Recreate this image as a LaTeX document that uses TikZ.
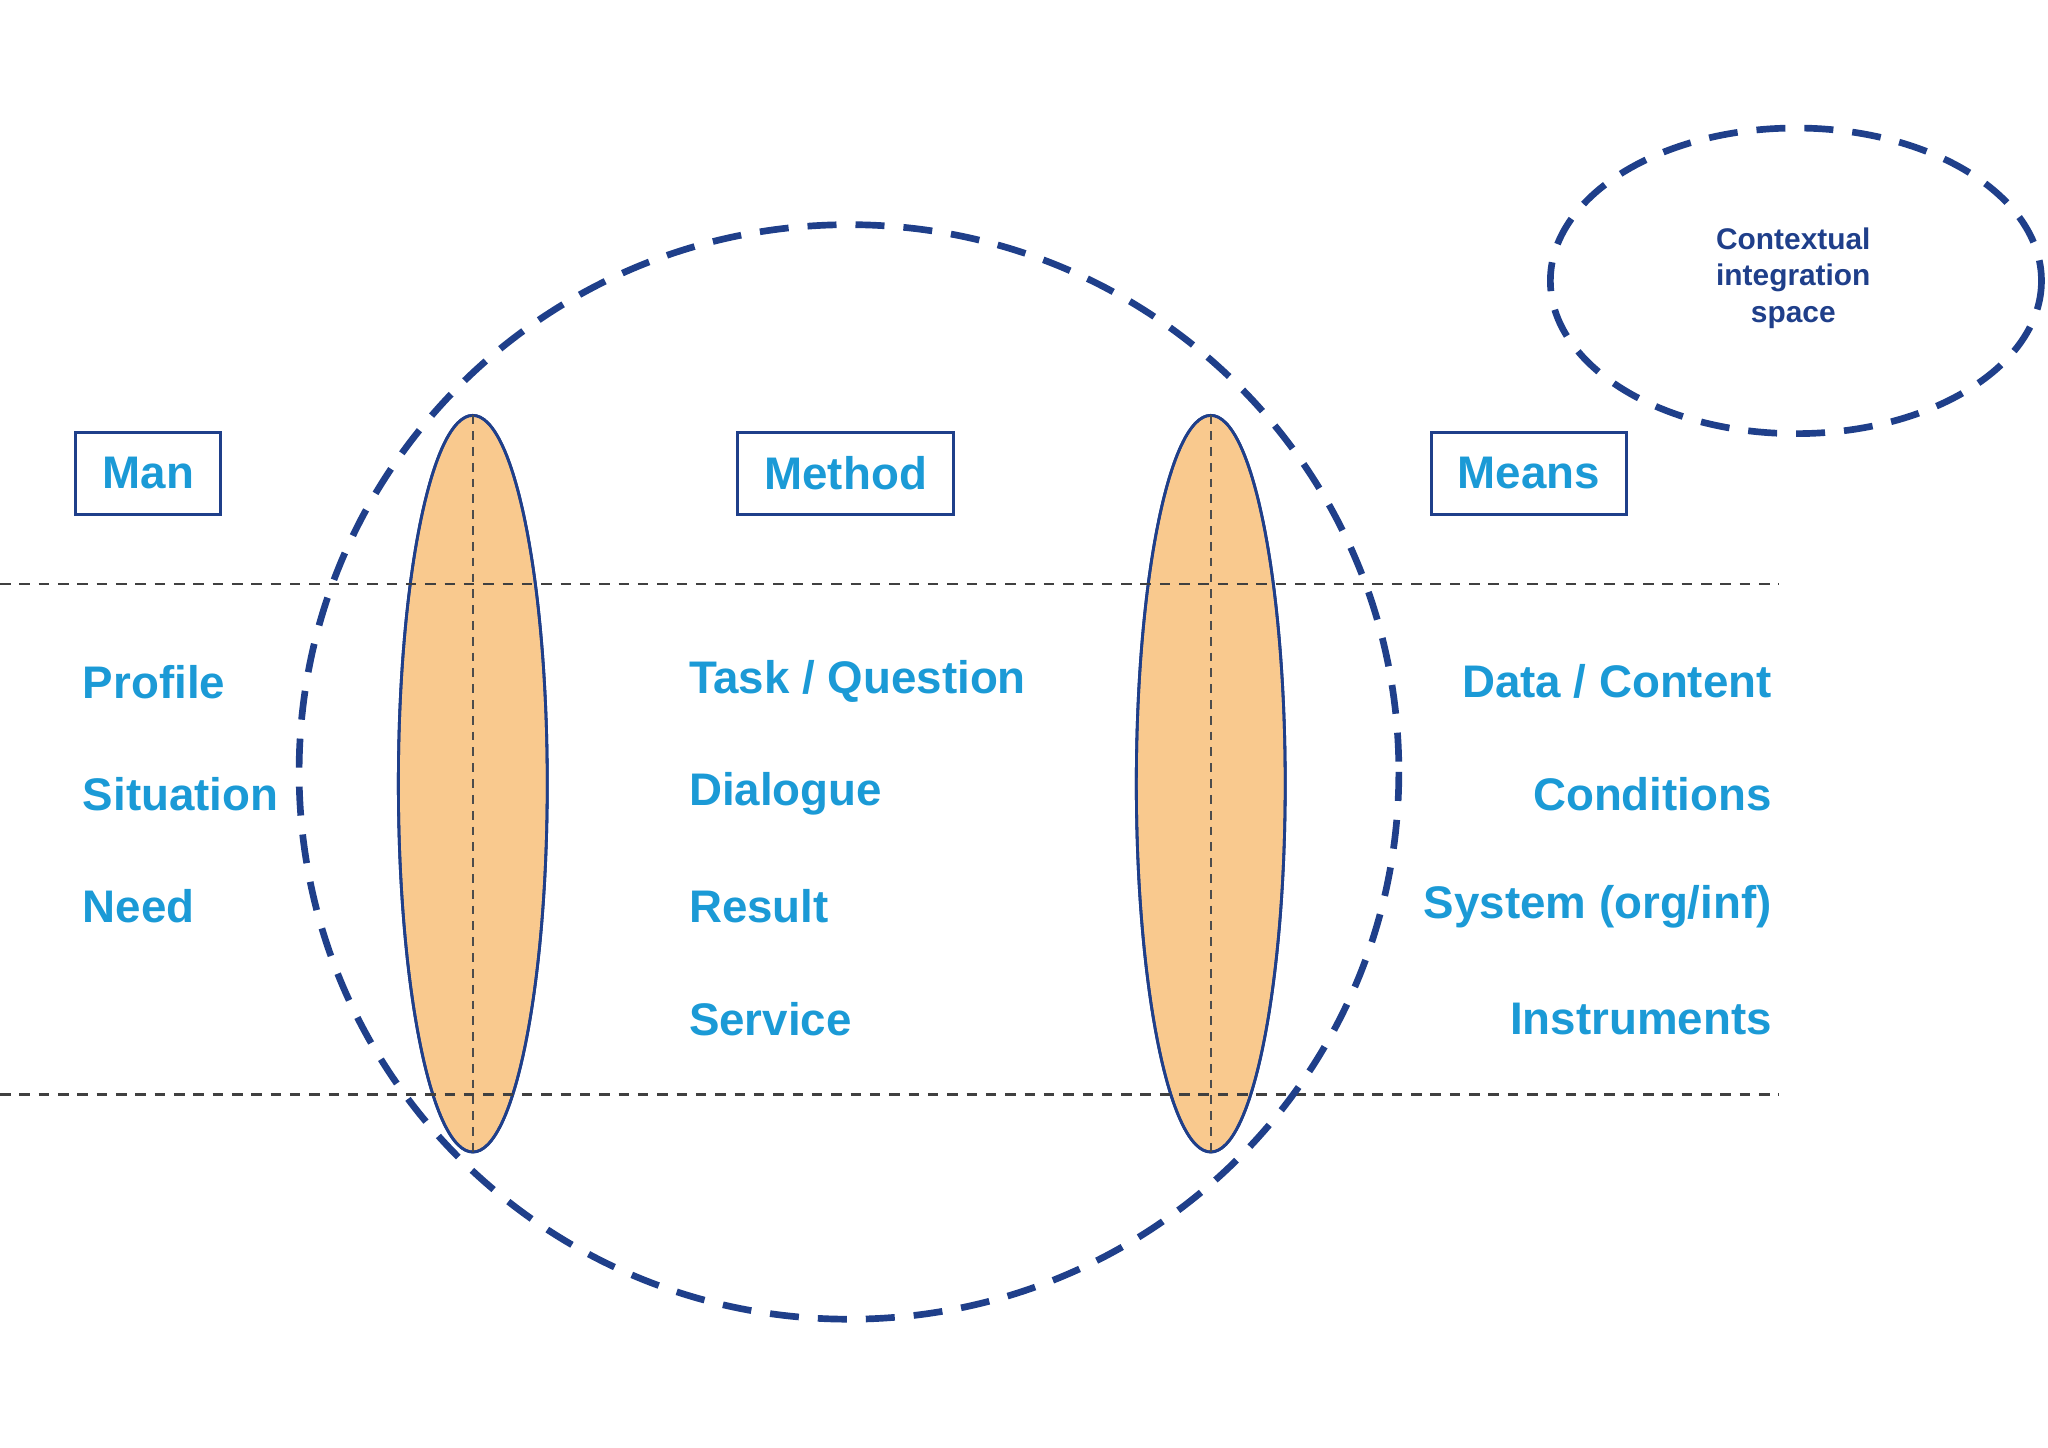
\documentclass[tikz,border=0pt]{standalone}
\usepackage{fontspec}
\setmainfont{Liberation Sans}
\usetikzlibrary{shapes.geometric}
\definecolor{txtblue}{HTML}{1B9AD6}
\definecolor{navy}{HTML}{1F3F8A}
\definecolor{peach}{HTML}{F9C98E}
\begin{document}
\begin{tikzpicture}[x=0.013061cm,y=-0.013061cm,
  lbl/.style={font=\fontsize{13}{15}\selectfont\bfseries,text=txtblue,inner sep=0pt},
  box/.style={lbl,draw=navy,line width=0.9pt,minimum height=0.82cm,inner sep=0pt},
  bigdash/.style={navy,line width=1.9pt,dash pattern=on 0.29cm off 0.19cm},
  thindash/.style={black!75,line width=0.6pt,dash pattern=on 3pt off 2.5pt},
  lens/.style={fill=peach,draw=navy,line width=0.8pt}]
\useasboundingbox (0,0) rectangle (1568,1108);
% lenses
\fill[lens] (362,600) ellipse [x radius=57, y radius=282];
\fill[lens] (927,600) ellipse [x radius=57, y radius=282];
\draw[lens,fill=none] (362,600) ellipse [x radius=57, y radius=282];
\draw[lens,fill=none] (927,600) ellipse [x radius=57, y radius=282];
\draw[black!70,line width=0.5pt,dash pattern=on 2.5pt off 2pt] (362,318) -- (362,882);
\draw[black!70,line width=0.5pt,dash pattern=on 2.5pt off 2pt] (927,318) -- (927,882);
% horizontal separators
\coordinate (l1) at (0,447); \coordinate (r1) at (1362,447);
\coordinate (l2) at (0,838); \coordinate (r2) at (1362,838);
\draw[thindash] (l1) -- (r1);
\draw[thindash] (l2) -- (r2);
% dashed circles
\draw[bigdash] (650,591) ellipse [x radius=421, y radius=419];
\draw[bigdash] (1375,215) ellipse [x radius=188, y radius=117];
\node[font=\fontsize{8.5}{10.5}\selectfont\bfseries,text=navy,align=center] (ctx) at (1373,213) {Contextual\\integration\\space};
% headers
\node[box,minimum width=1.45cm] (man) at (113.5,362.5) {Man};
\node[box,minimum width=2.16cm] (method) at (647.5,362.5) {Method};
\node[box,minimum width=1.95cm] (means) at (1170.5,362.5) {Means};
% left column
\node[lbl,anchor=west] (profile) at (63,522) {Profile};
\node[lbl,anchor=west] (situation) at (63,608) {Situation};
\node[lbl,anchor=west] (need) at (63,694) {Need};
% middle column
\node[lbl,anchor=west] (task) at (527,522) {Task / Question};
\node[lbl,anchor=west] (dialogue) at (527,608) {Dialogue};
\node[lbl,anchor=west] (result) at (527,694) {Result};
\node[lbl,anchor=west] (service) at (527,780) {Service};
% right column
\node[lbl,anchor=east] (data) at (1357,522) {Data / Content};
\node[lbl,anchor=east] (cond) at (1357,608) {Conditions};
\node[lbl,anchor=east] (system) at (1357,694) {System (org/inf)};
\node[lbl,anchor=east] (instr) at (1357,780) {Instruments};
\end{tikzpicture}
\end{document}
